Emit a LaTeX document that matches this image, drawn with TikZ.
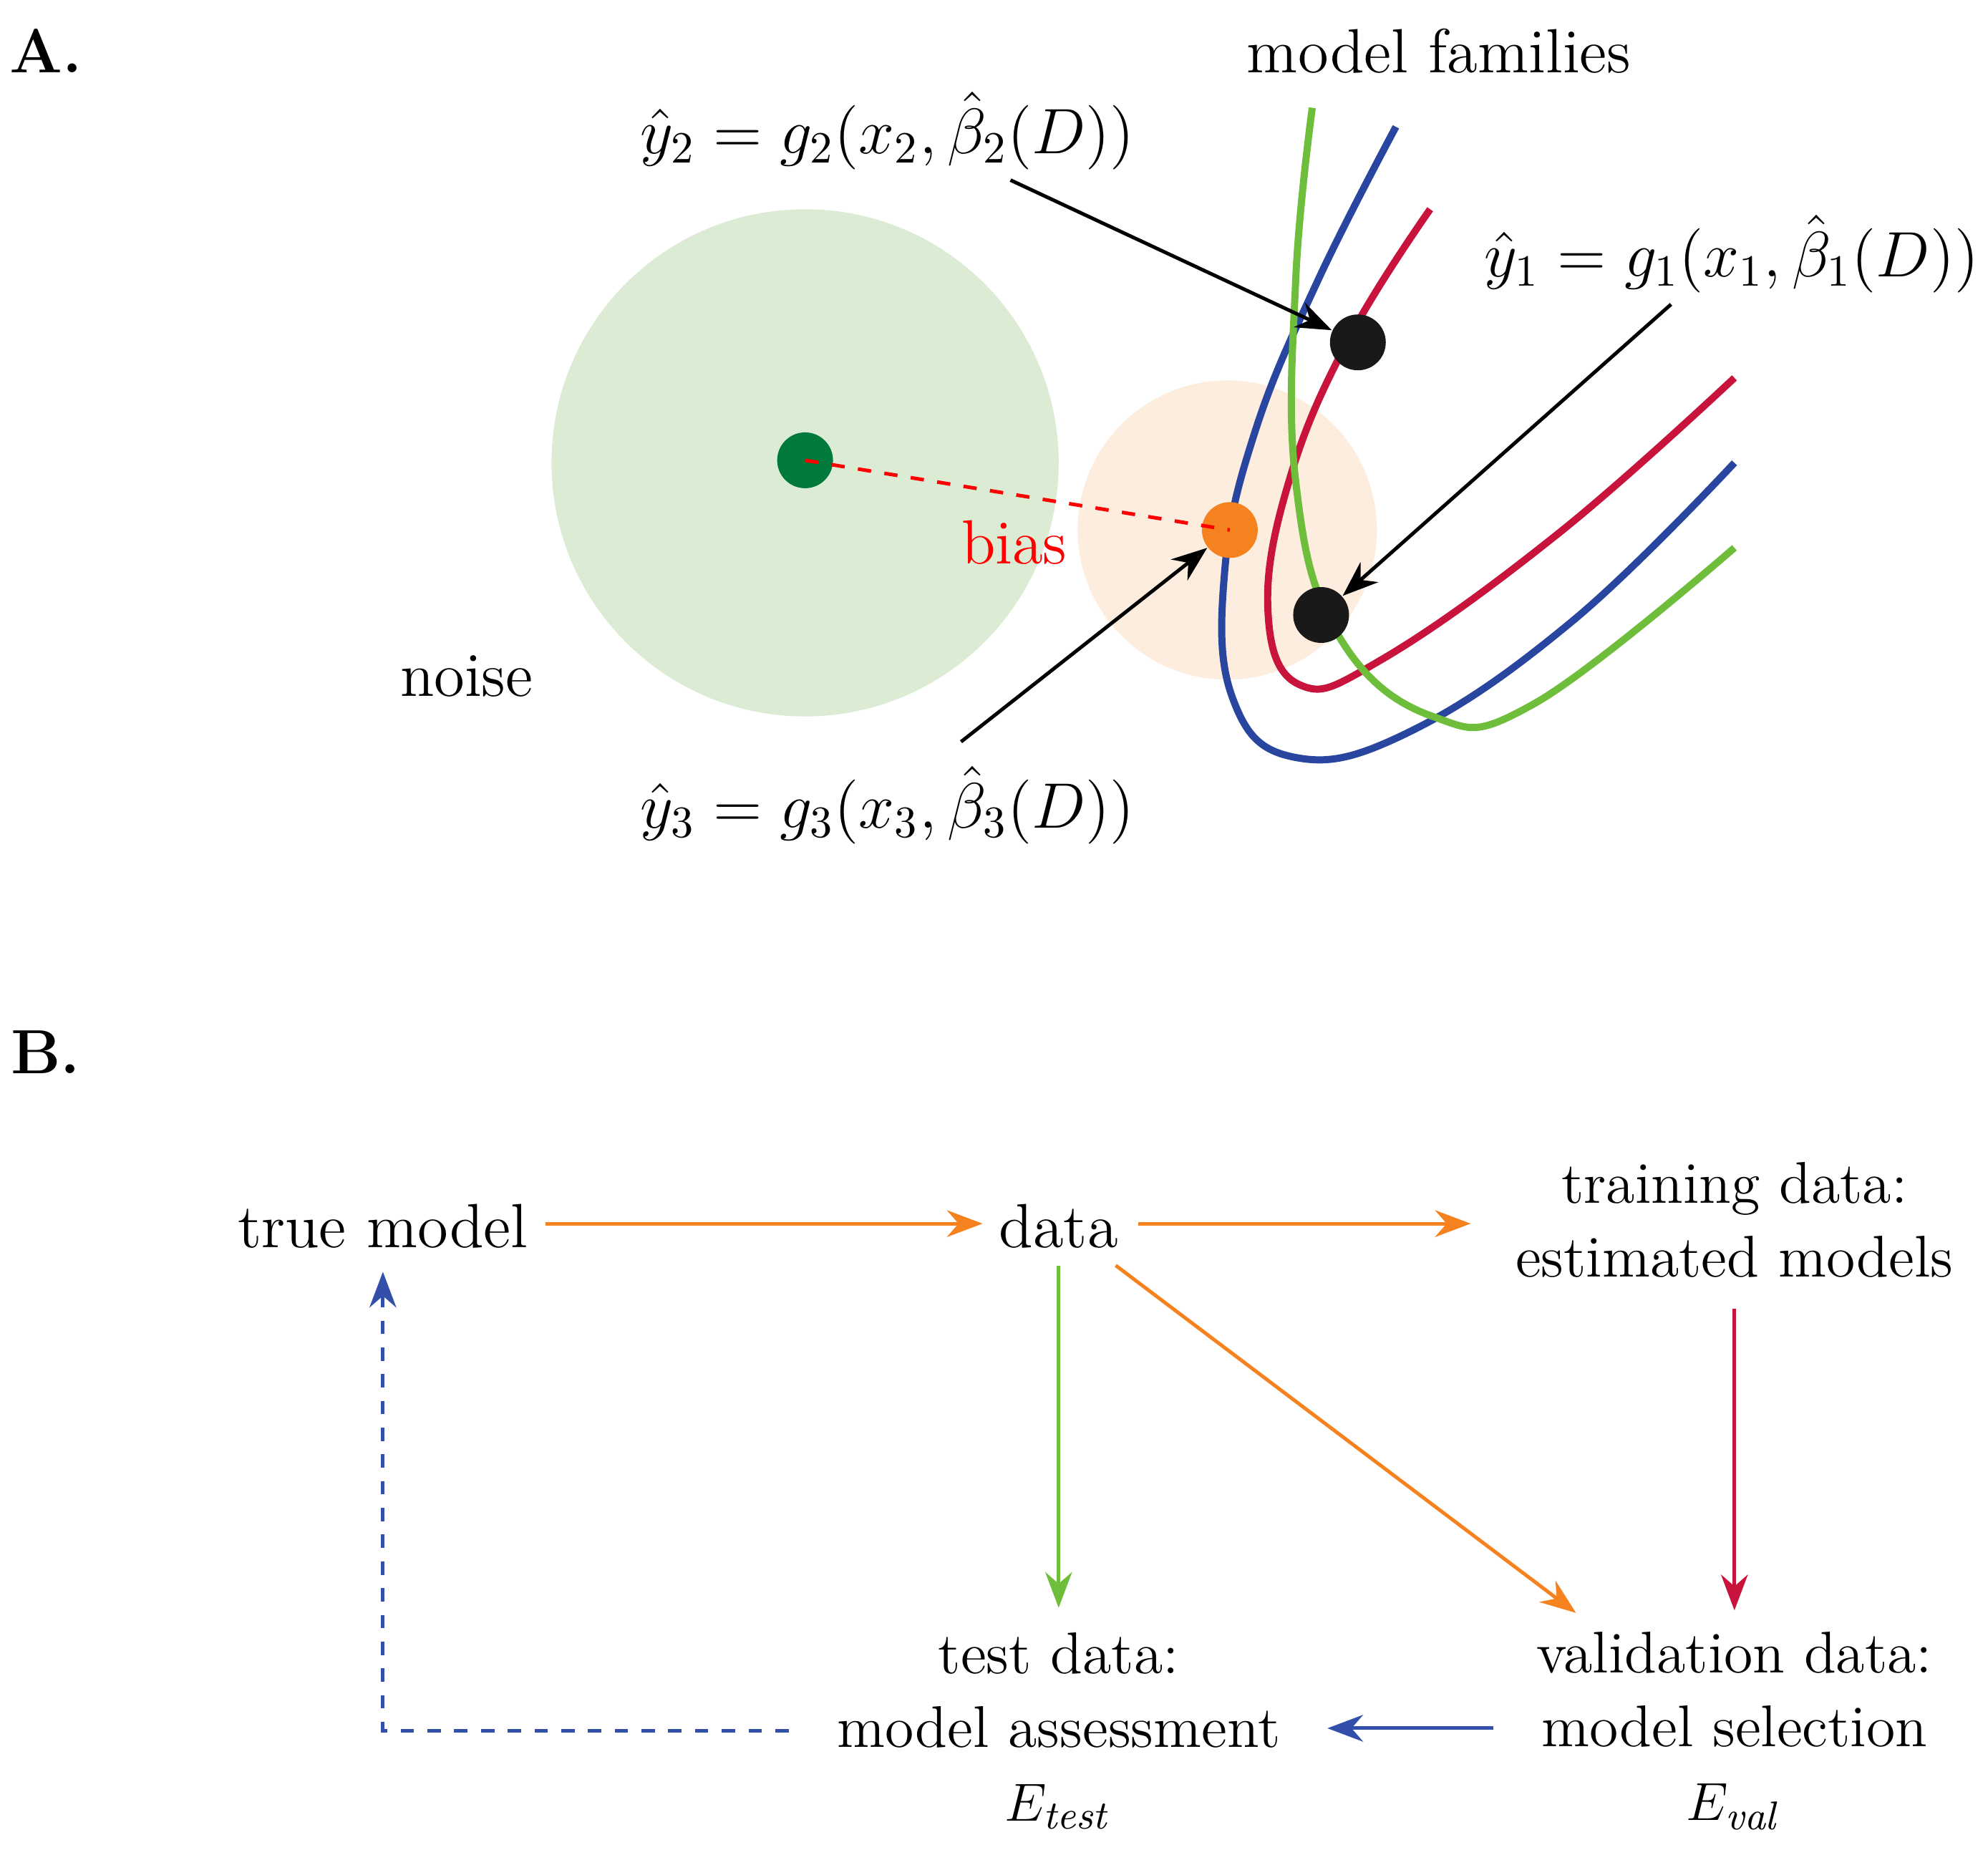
\documentclass[tikz,border=0pt]{standalone}
\usetikzlibrary{arrows.meta}
\definecolor{lgreen}{RGB}{220,236,212}
\definecolor{lorange}{RGB}{253,237,222}
\definecolor{dgreen}{RGB}{0,122,60}
\definecolor{dorange}{RGB}{245,130,30}
\definecolor{cblue}{RGB}{40,70,160}
\definecolor{cred}{RGB}{200,20,60}
\definecolor{cgreen}{RGB}{110,190,60}
\definecolor{ablue}{RGB}{50,80,170}
\tikzset{
 lbl/.style={font=\fontsize{14}{17}\selectfont, align=center, inner sep=1pt},
 lblb/.style={font=\fontsize{13.2}{16.5}\selectfont, align=center, inner sep=1pt},
 arr/.style={-{Stealth[length=8pt,width=6pt]}, line width=0.8pt},
 curve/.style={line width=1.6pt, smooth, tension=0.7},
 dot/.style={circle, minimum size=0.44cm, inner sep=0pt}
}
\begin{document}
\begin{tikzpicture}[x=0.01cm,y=-0.01cm]
\useasboundingbox (0,0) rectangle (1568,1459);
% Part A
\node[font=\fontsize{14}{17}\selectfont\bfseries] (A) at (36,40) {A.};
\fill[lgreen] (635,365) circle (200);
\fill[lorange] (968,418) circle (118);
\node[lbl] (noise) at (368,533) {noise};
\draw[curve, cblue] plot coordinates {(1101,100) (1040,220) (990,340) (966,450) (972,550) (1020,597) (1110,578) (1240,490) (1368,365)};
\draw[curve, cred] plot coordinates {(1128,165) (1065,265) (1018,375) (1000,480) (1025,540) (1090,520) (1230,420) (1368,298)};
\draw[curve, cgreen] plot coordinates {(1035,85) (1022,220) (1022,380) (1055,500) (1130,565) (1210,555) (1368,432)};
\node[dot, fill=dgreen] (g) at (635,363) {};
\node[dot, fill=dorange] (o) at (970,418) {};
\node[dot, fill=black!90] (b2) at (1071,270) {};
\node[dot, fill=black!90] (b1) at (1042,485) {};
\draw[red, dashed, line width=0.8pt] (g.center) -- (o.center);
\node[lbl, text=red] (bias) at (800,428) {bias};
\node[lbl] (mf) at (1135,40) {model families};
\node[lbl] (y2) at (700,103) {$\hat y_2=g_2(x_2,\hat\beta_2(D))$};
\node[lbl] (y1) at (1366,200) {$\hat y_1=g_1(x_1,\hat\beta_1(D))$};
\node[lbl] (y3) at (700,635) {$\hat y_3=g_3(x_3,\hat\beta_3(D))$};
\coordinate (s2) at (797,142);
\coordinate (s1) at (1318,240);
\coordinate (s3) at (758,585);
\draw[arr] (s2) -- (b2);
\draw[arr] (s1) -- (b1);
\draw[arr] (s3) -- (o);
% Part B
\node[font=\fontsize{14}{17}\selectfont\bfseries] (B) at (36,830) {B.};
\node[lbl] (tm) at (302,967) {true model};
\node[lbl] (data) at (835,967) {data};
\node[lblb] (train) at (1368,962) {training data:\\estimated models};
\node[lblb] (test) at (835,1365) {test data:\\model assessment\\$E_{\mathit{test}}$};
\node[lblb] (val) at (1368,1365) {validation data:\\model selection\\$E_{\mathit{val}}$};
\draw[arr, dorange] (430,965) -- (775,965);
\draw[arr, dorange] (898,965) -- (1160,965);
\draw[arr, dorange] (880,998) -- (1243,1272);
\draw[arr, cgreen] (835,998) -- (835,1268);
\draw[arr, cred] (1368,1032) -- (1368,1270);
\draw[arr, ablue] (1178,1363) -- (1047,1363);
\draw[arr, ablue, dashed] (622,1365) -- (302,1365) -- (302,1003);
\end{tikzpicture}
\end{document}
